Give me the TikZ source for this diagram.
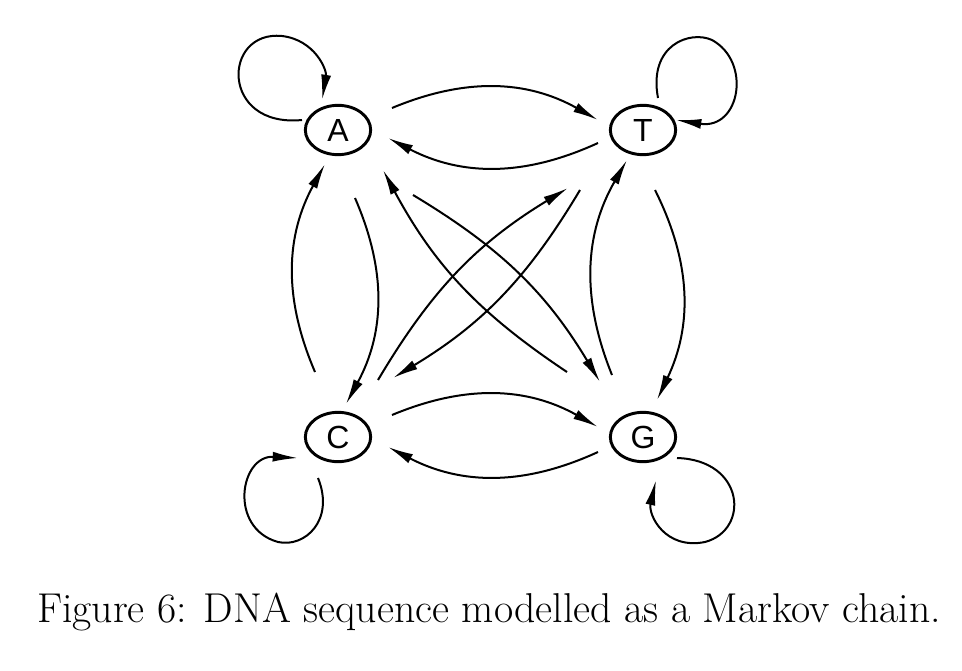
\documentclass[tikz,border=0pt]{standalone}
\usepackage{fontspec}
\newfontfamily\lab{Liberation Sans}
\usetikzlibrary{shapes.geometric,arrows.meta}
\begin{document}
\begin{tikzpicture}[x=0.75pt,y=-0.75pt,
  st/.style={ellipse,draw,line width=2.2pt,minimum width=49pt,minimum height=37pt,inner sep=0pt,font=\lab\fontsize{24}{24}\selectfont},
  arr/.style={line width=1.5pt,-{Latex[length=19pt,width=7.5pt]}}]
\useasboundingbox (0,0) rectangle (962,670);
\node[st] (A) at (338,130) {A};
\node[st] (T) at (643,130) {T};
\node[st] (C) at (338,437) {C};
\node[st] (G) at (643,437) {G};
% horizontal
\draw[arr] (392,108) to[bend left=26] (598,120);
\draw[arr] (598,143) to[bend left=26] (388,138);
\draw[arr] (392,415) to[bend left=26] (598,427);
\draw[arr] (598,452) to[bend left=26] (388,447);
% vertical
\draw[arr] (315,372) to[bend left=26] (325,164);
\draw[arr] (355,198) to[bend left=26] (346,404);
\draw[arr] (655,190) to[bend left=26] (657,400);
\draw[arr] (612,375) to[bend left=26] (627,160);
% diagonals
\draw[arr] (413,195) to[bend left=14] (600,382);
\draw[arr] (567,372) to[bend left=14] (383,170);
\draw[arr] (378,380) to[bend left=14] (568,188);
\draw[arr] (580,190) to[bend left=14] (393,378);
% loops
\draw[arr] (302,120) .. controls (220,128) and (222,30) .. (282,36) .. controls (315,40) and (327,70) .. (322,100);
\draw[arr] (658,98) .. controls (648,45) and (690,30) .. (712,40) .. controls (752,62) and (740,130) .. (676,120);
\draw[arr] (318,478) .. controls (335,520) and (305,548) .. (278,542) .. controls (228,528) and (240,455) .. (298,458);
\draw[arr] (677,458) .. controls (745,460) and (750,530) .. (705,542) .. controls (665,550) and (648,515) .. (656,480);
\node[font=\fontsize{31.3}{34}\selectfont] (cap) at (489,612) {Figure 6: DNA sequence modelled as a Markov chain.};
\end{tikzpicture}
\end{document}
